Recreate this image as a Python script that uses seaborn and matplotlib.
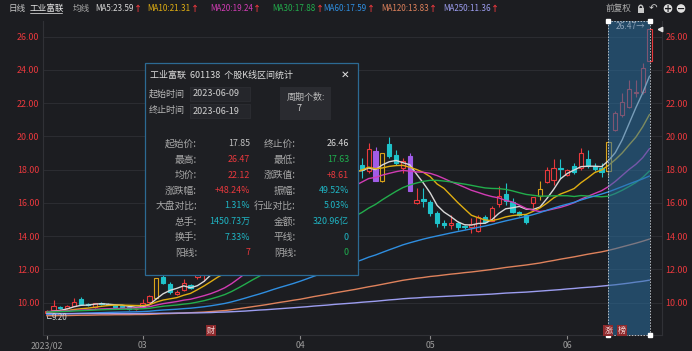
#工业富联 601138 日K线(前复权) + 均线 + 区间统计弹窗

import numpy as np
import pandas as pd
import seaborn as sns
import matplotlib.pyplot as plt
from matplotlib.patches import Rectangle, Circle, Arc

#交易日
holidays = ['2023-04-05', '2023-05-01', '2023-05-02', '2023-05-03']
dates = pd.bdate_range('2023-02-09', '2023-06-19').drop(pd.to_datetime(holidays))

#K线数据
open_ = [9.40, 9.55, 9.75, 9.68, 9.82, 10.20, 9.92, 9.72, 9.95, 9.92,
         9.88, 9.76, 9.72, 9.62, 9.75, 10.05, 10.30, 11.55, 11.10, 10.50,
         10.76, 11.08, 11.55, 11.85, 12.05, 12.65, 13.10, 13.80, 15.20, 15.90,
         16.30, 16.80, 16.40, 17.10, 17.60, 16.90, 16.60, 16.90, 17.60, 18.30,
         18.50, 17.80, 18.00, 18.30, 17.80, 17.60, 18.30, 17.94, 19.14, 17.32,
         19.54, 18.88, 18.10, 18.82, 16.02, 16.22, 16.08, 15.42, 14.82, 14.68,
         14.82, 14.62, 14.57, 14.30, 15.15, 14.94, 15.95, 16.55, 16.08, 15.45,
         15.25, 16.02, 16.40, 17.28, 17.40, 18.10, 17.68, 18.22, 18.08, 18.62,
         18.22, 18.08, 17.90, 20.39, 21.29, 21.79, 22.60, 22.65, 24.53]
high = [9.55, 10.15, 9.80, 9.85, 10.30, 10.32, 9.98, 10.00, 10.02, 9.98,
        9.92, 9.82, 9.76, 9.70, 10.25, 10.48, 11.46, 11.72, 11.25, 10.75,
        11.45, 11.15, 12.00, 12.30, 12.75, 13.30, 13.85, 14.96, 16.20, 16.70,
        17.00, 17.00, 17.30, 17.90, 17.70, 17.10, 17.00, 17.80, 18.50, 18.90,
        18.70, 18.20, 18.80, 18.50, 18.10, 18.20, 18.70, 19.62, 19.35, 19.03,
        19.95, 19.18, 18.68, 19.02, 16.88, 16.88, 16.15, 15.50, 14.95, 15.28,
        14.90, 14.70, 15.07, 15.30, 15.30, 15.82, 17.02, 17.22, 16.30, 15.50,
        15.35, 16.34, 17.34, 18.18, 18.62, 18.66, 18.05, 18.42, 19.28, 19.18,
        18.38, 18.38, 19.64, 21.50, 22.59, 23.39, 23.40, 24.39, 26.47]
low = [9.20, 9.50, 9.62, 9.62, 9.78, 9.88, 9.82, 9.70, 9.88, 9.84,
       9.72, 9.70, 9.56, 9.55, 9.70, 10.00, 10.25, 11.10, 10.50, 10.45,
       10.70, 10.82, 11.40, 11.30, 11.95, 12.50, 13.00, 13.70, 15.00, 15.60,
       16.10, 16.20, 16.30, 17.00, 16.90, 16.40, 16.40, 16.80, 17.40, 18.00,
       17.70, 17.50, 17.90, 17.60, 17.30, 17.50, 17.50, 17.78, 17.30, 17.25,
       18.68, 18.30, 17.82, 16.69, 15.95, 15.74, 15.22, 14.57, 14.47, 14.41,
       14.37, 14.45, 14.21, 14.25, 14.80, 14.90, 15.78, 15.88, 15.40, 15.20,
       14.75, 15.68, 16.18, 17.20, 17.10, 17.48, 17.60, 17.75, 18.00, 18.10,
       17.90, 17.58, 17.63, 20.30, 21.19, 21.70, 22.40, 22.55, 24.50]
close = [9.50, 9.78, 9.68, 9.78, 10.05, 9.93, 9.85, 9.96, 9.93, 9.88,
         9.76, 9.75, 9.60, 9.65, 10.00, 10.42, 11.46, 11.17, 10.66, 10.62,
         11.17, 10.88, 11.80, 12.00, 12.60, 13.10, 13.60, 14.96, 15.90, 16.30,
         16.70, 16.40, 17.00, 17.60, 17.10, 16.60, 16.74, 17.50, 18.20, 18.60,
         17.90, 17.90, 18.40, 17.80, 17.60, 17.90, 18.00, 19.22, 17.30, 19.03,
         18.84, 18.40, 18.54, 16.69, 16.18, 16.14, 15.42, 14.82, 14.70, 14.82,
         14.58, 14.53, 14.73, 15.18, 14.87, 15.68, 16.42, 16.10, 15.48, 15.28,
         14.85, 16.34, 16.82, 17.98, 18.08, 18.02, 17.98, 17.85, 18.98, 18.22,
         18.02, 17.85, 19.64, 21.39, 22.05, 22.85, 22.70, 24.09, 26.46]

#涨停/跌停日
limit_up = ['2023-03-03', '2023-03-20', '2023-04-20', '2023-05-26', '2023-06-09']
limit_down = ['2023-04-19', '2023-04-26']

#窗口之前的收盘价(均线起点用)
prior_close = [9.05, 9.12, 9.08, 9.00, 8.96, 9.02, 9.10, 9.15, 9.08, 9.04,
               9.10, 9.18, 9.22, 9.15, 9.08, 9.12, 9.20, 9.26, 9.18, 9.14,
               9.20, 9.25, 9.18, 9.12, 9.16, 9.22, 9.30, 9.28, 9.24, 9.32,
               9.38, 9.35, 9.30, 9.36, 9.42, 9.40, 9.34, 9.38, 9.45, 9.50,
               9.48, 9.42, 9.46, 9.52, 9.55, 9.50, 9.44, 9.48, 9.56, 9.60,
               9.52, 9.46, 9.40, 9.38, 9.44, 9.50, 9.42, 9.36, 9.40]

#长周期均线
ma120 = [9.22, 9.22, 9.23, 9.23, 9.24, 9.25, 9.25, 9.26, 9.27, 9.27,
         9.28, 9.28, 9.28, 9.29, 9.29, 9.30, 9.32, 9.34, 9.35, 9.36,
         9.38, 9.40, 9.42, 9.44, 9.47, 9.50, 9.53, 9.58, 9.64, 9.70,
         9.76, 9.82, 9.88, 9.95, 10.02, 10.08, 10.15, 10.21, 10.29, 10.37,
         10.44, 10.51, 10.59, 10.66, 10.73, 10.80, 10.88, 10.96, 11.03, 11.11,
         11.19, 11.27, 11.35, 11.41, 11.47, 11.52, 11.58, 11.62, 11.67, 11.72,
         11.76, 11.81, 11.85, 11.90, 11.95, 12.00, 12.06, 12.12, 12.17, 12.22,
         12.27, 12.33, 12.39, 12.47, 12.54, 12.62, 12.69, 12.76, 12.84, 12.92,
         12.99, 13.06, 13.15, 13.25, 13.36, 13.47, 13.58, 13.70, 13.83]
ma250 = [9.35, 9.35, 9.35, 9.35, 9.35, 9.35, 9.35, 9.35, 9.35, 9.35,
         9.35, 9.35, 9.35, 9.35, 9.35, 9.36, 9.36, 9.37, 9.37, 9.38,
         9.38, 9.39, 9.39, 9.40, 9.41, 9.43, 9.44, 9.46, 9.48, 9.50,
         9.53, 9.56, 9.58, 9.61, 9.64, 9.67, 9.70, 9.73, 9.76, 9.80,
         9.83, 9.86, 9.90, 9.93, 9.96, 9.99, 10.03, 10.06, 10.09, 10.13,
         10.17, 10.20, 10.24, 10.27, 10.29, 10.32, 10.34, 10.36, 10.38, 10.40,
         10.42, 10.44, 10.46, 10.48, 10.50, 10.52, 10.55, 10.58, 10.60, 10.62,
         10.64, 10.67, 10.70, 10.73, 10.76, 10.79, 10.83, 10.86, 10.90, 10.93,
         10.96, 11.00, 11.04, 11.08, 11.13, 11.18, 11.24, 11.29, 11.36]

#顶部均线标签
ma_names = ['MA5:23.59', 'MA10:21.31', 'MA20:19.24', 'MA30:17.88',
            'MA60:17.59', 'MA120:13.83', 'MA250:11.36']
ma_colors = ['#d8d8d8', '#e0ae12', '#d23cb4', '#22ad4c', '#2f8ee0', '#df825c', '#9c9df0']
ma_periods = [5, 10, 20, 30, 60]

#区间
sel_start, sel_end = '2023-06-09', '2023-06-19'
events = [('2023-03-15', '财'), ('2023-06-09', '涨'), ('2023-06-13', '榜')]
extra_stats = {'均价': '22.12', '大盘对比': '1.31%', '行业对比': '5.03%',
               '总手': '1450.73万', '金额': '320.96亿', '换手': '7.33%'}

BG = '#1c1d21'
RED = '#e8383d'
GREEN = '#1fae4e'
CYAN = '#1fb5c4'
UP, DOWN, LU, LD = '#e8393c', '#1fc2ca', '#d9a31a', '#a05ce8'

sns.set_theme(style='dark', rc={'axes.facecolor': BG, 'figure.facecolor': BG})
plt.rcParams['font.family'] = ['Noto Sans CJK SC', 'DejaVu Sans']
plt.rcParams['axes.unicode_minus'] = False

fig = plt.figure(figsize=(6.92, 3.51), dpi=100)
ax = fig.add_axes([42.7 / 692, 16 / 351, 619.3 / 692, 314.3 / 351])
ax.set_facecolor(BG)

x = np.arange(len(close))
o, h, l, c = map(np.array, (open_, high, low, close))
cols = np.where(c >= o, UP, DOWN).astype(object)
for d in limit_up:
    cols[dates.get_loc(d)] = LU
for d in limit_down:
    cols[dates.get_loc(d)] = LD
hollow = c >= o
lo_b = np.minimum(o, c)
hi_b = np.maximum(o, c)
ax.vlines(x, hi_b, h, colors=cols, lw=0.8, zorder=2)
ax.vlines(x, l, lo_b, colors=cols, lw=0.8, zorder=2)
ax.bar(x, np.maximum(hi_b - lo_b, 0.03), bottom=lo_b, width=0.62,
       color=np.where(hollow, BG, cols), edgecolor=cols, linewidth=0.8, zorder=2)

#均线
full = pd.Series(prior_close + close)
for n, col in zip(ma_periods, ma_colors):
    ma = full.rolling(n).mean().iloc[len(prior_close):].to_numpy()
    sns.lineplot(x=x, y=ma, color=col, lw=1.0, ax=ax, zorder=3)
sns.lineplot(x=x, y=ma120, color=ma_colors[5], lw=1.0, ax=ax, zorder=3)
sns.lineplot(x=x, y=ma250, color=ma_colors[6], lw=1.0, ax=ax, zorder=3)

ax.set_xlim(-0.58, 89.82)
y0, y1 = 8.06, 26.96
ax.set_ylim(y0, y1)
yt = np.arange(10, 27, 2)
ax.set_yticks(yt)
ax.set_yticklabels([f'{v:.2f}' for v in yt])
ax.tick_params(axis='y', length=0, labelsize=6.4, labelcolor=RED,
               labelleft=True, labelright=True, pad=2.5)
first = [0] + [i for i in range(1, len(dates)) if dates[i].month != dates[i - 1].month]
ax.set_xticks(first)
ax.set_xticklabels([dates[0].strftime('%Y/%m')] + [dates[i].strftime('%m') for i in first[1:]])
ax.tick_params(axis='x', length=3, width=0.8, color='#8a8a8a', labelsize=6.3,
               labelcolor='#9c9c9c', pad=1.5, bottom=True)
ax.grid(axis='y', color='#2b2c31', lw=0.8)
ax.grid(axis='x', visible=False)
for s in ['left', 'right', 'bottom']:
    ax.spines[s].set_visible(True)
    ax.spines[s].set_color('#303136')
    ax.spines[s].set_linewidth(0.8)
ax.spines['top'].set_visible(False)

#最低价标记
imin = int(np.argmin(l))
ax.plot([imin, imin, imin + 0.6], [l[imin], l[imin] - 0.1, l[imin] - 0.1], color='#cfcfcf', lw=0.6, zorder=3)
ax.text(imin + 0.7, l[imin] - 0.1, f'{l[imin]:.2f}', fontsize=5.8, color='#cfcfcf', va='center', zorder=3)

#区间选择框
s0, s1 = dates.get_loc(sel_start), dates.get_loc(sel_end)
ax.axvspan(s0, s1, color='#2a6ea0', alpha=0.55, lw=0, zorder=4)
for xv in (s0, s1):
    ax.plot([xv, xv], [y0, y1], color='#b8c0c8', lw=0.7, ls=(0, (1.5, 1.5)), zorder=5, clip_on=False)
for yv in (y0, y1):
    ax.plot([s0, s1], [yv, yv], color='#b8c0c8', lw=0.7, ls=(0, (1.5, 1.5)), zorder=5, clip_on=False)
ax.plot([s0, s1, s0, s1], [y1, y1, y0, y0], 's', ms=2.2, color='white', clip_on=False, zorder=6)
hmax = h[s0:s1 + 1].max()
ax.text(s1 - 0.6, hmax + 0.15, f'{hmax:.2f}→', ha='right', va='center', color='#8fa3b8', fontsize=6, zorder=6)
ax.plot(89.5, c[-1], marker='<', ms=3.2, color='#e0e0e0', clip_on=False, zorder=6)

for d, t in events:
    ax.text(dates.get_loc(d), 8.33, t, ha='center', va='center', fontsize=5.8, color='#f3d6d6', zorder=6,
            bbox=dict(boxstyle='square,pad=0.12', fc='#8e2a2d', ec='none'))

#覆盖层 (像素坐标)
ov = fig.add_axes([0, 0, 1, 1], zorder=10)
ov.set_xlim(0, 692)
ov.set_ylim(351, 0)
ov.axis('off')

hy = 8.5
hs = 5.8
ov.text(8, hy, '日线', color='#c8c8c8', fontsize=6.2, va='center')
ov.text(30, hy, '工业富联', color='#e6e6e6', fontsize=6.2, va='center')
ov.plot([30, 62], [13.2, 13.2], color='#cfcfcf', lw=0.6)
ov.text(73, hy, '均线', color='#a8a8a8', fontsize=6.2, va='center')
for xp, txt, col in zip([95, 147, 210, 272, 323, 381, 443], ma_names, ma_colors):
    t = ov.text(xp, hy, txt, color=col, fontsize=hs, va='center')
    ov.annotate('↑', xy=(1, 0.5), xycoords=t, xytext=(0.2, 0), textcoords='offset points',
                va='center', ha='left', color=RED, fontsize=hs, fontweight='bold')
ov.text(606, hy, '前复权', color='#b0b0b0', fontsize=6.2, va='center')
ov.add_patch(Rectangle((637.5, 8.2), 6.5, 5, fc='#c8c8c8', ec='none'))
ov.add_patch(Arc((640.75, 8.2), 4.2, 6, theta1=180, theta2=360, color='#c8c8c8', lw=1.0))
ov.text(653, hy, '↶', color='#d0d0d0', fontsize=7.5, va='center', ha='center', family='DejaVu Sans')
for xp, sym in [(668, '+'), (681, '−')]:
    ov.add_patch(Circle((xp, hy), 4.3, fc='#e0e0e0', ec='none'))
    ov.text(xp, hy, sym, color=BG, fontsize=7, fontweight='bold', ha='center', va='center', family='DejaVu Sans')

#区间统计弹窗
ov.add_patch(Rectangle((145, 63), 213, 212, fc='#1e1f23', ec='#2c6a93', lw=0.9))
ov.text(150, 75, '工业富联  601138  个股K线区间统计', color='#dcdcdc', fontsize=6.5, va='center')
ov.text(345, 75, '✕', color='#e0e0e0', fontsize=7.5, ha='center', va='center', fontweight='bold', family='DejaVu Sans')
ov.text(149, 94, '起始时间', color='#b8b8b8', fontsize=6.5, va='center')
ov.text(149, 111, '终止时间', color='#b8b8b8', fontsize=6.5, va='center')
for yb in (87, 104):
    ov.add_patch(Rectangle((190, yb), 60, 14, fc='#25262b', ec='#2f3035', lw=0.5))
ov.text(193, 94, dates[s0].strftime('%Y-%m-%d'), color='#d0d0d0', fontsize=6.5, va='center')
ov.text(193, 111, dates[s1].strftime('%Y-%m-%d'), color='#d0d0d0', fontsize=6.5, va='center')
ov.add_patch(Rectangle((280, 87), 51, 33, fc='#2a2b30', ec='none'))
ov.text(287, 97, '周期个数:', color='#b8b8b8', fontsize=6.5, va='center')
ov.text(297, 108.5, str(s1 - s0 + 1), color='#d0d0d0', fontsize=6.5, va='center')

start_p = c[s0 - 1]
end_p = c[s1]
lmin = l[s0:s1 + 1].min()
chg = end_p - start_p
n_up = int((c[s0:s1 + 1] > o[s0:s1 + 1]).sum())
n_dn = int((c[s0:s1 + 1] < o[s0:s1 + 1]).sum())
n_flat = (s1 - s0 + 1) - n_up - n_dn
rows = [
    ('起始价:', f'{start_p:.2f}', '#c0c0c0', '终止价:', f'{end_p:.2f}', '#d8d8d8'),
    ('最高:', f'{hmax:.2f}', RED, '最低:', f'{lmin:.2f}', GREEN),
    ('均价:', extra_stats['均价'], RED, '涨跌值:', f'{chg:+.2f}', RED),
    ('涨跌幅:', f'{chg / start_p * 100:+.2f}%', RED, '振幅:', f'{(hmax - lmin) / start_p * 100:.2f}%', CYAN),
    ('大盘对比:', extra_stats['大盘对比'], CYAN, '行业对比:', extra_stats['行业对比'], CYAN),
    ('总手:', extra_stats['总手'], CYAN, '金额:', extra_stats['金额'], CYAN),
    ('换手:', extra_stats['换手'], CYAN, '平线:', str(n_flat), CYAN),
    ('阳线:', str(n_up), RED, '阴线:', str(n_dn), GREEN),
]
for k, (la, va, ca, lb, vb, cb) in enumerate(rows):
    yy = 144 + 15.5 * k
    ov.text(197, yy, la, color='#a8a8a8', fontsize=7, ha='right', va='center')
    ov.text(250, yy, va, color=ca, fontsize=6.4, ha='right', va='center')
    ov.text(296, yy, lb, color='#a8a8a8', fontsize=7, ha='right', va='center')
    ov.text(349, yy, vb, color=cb, fontsize=6.4, ha='right', va='center')

fig.savefig('out.png', dpi=100, facecolor=BG)
